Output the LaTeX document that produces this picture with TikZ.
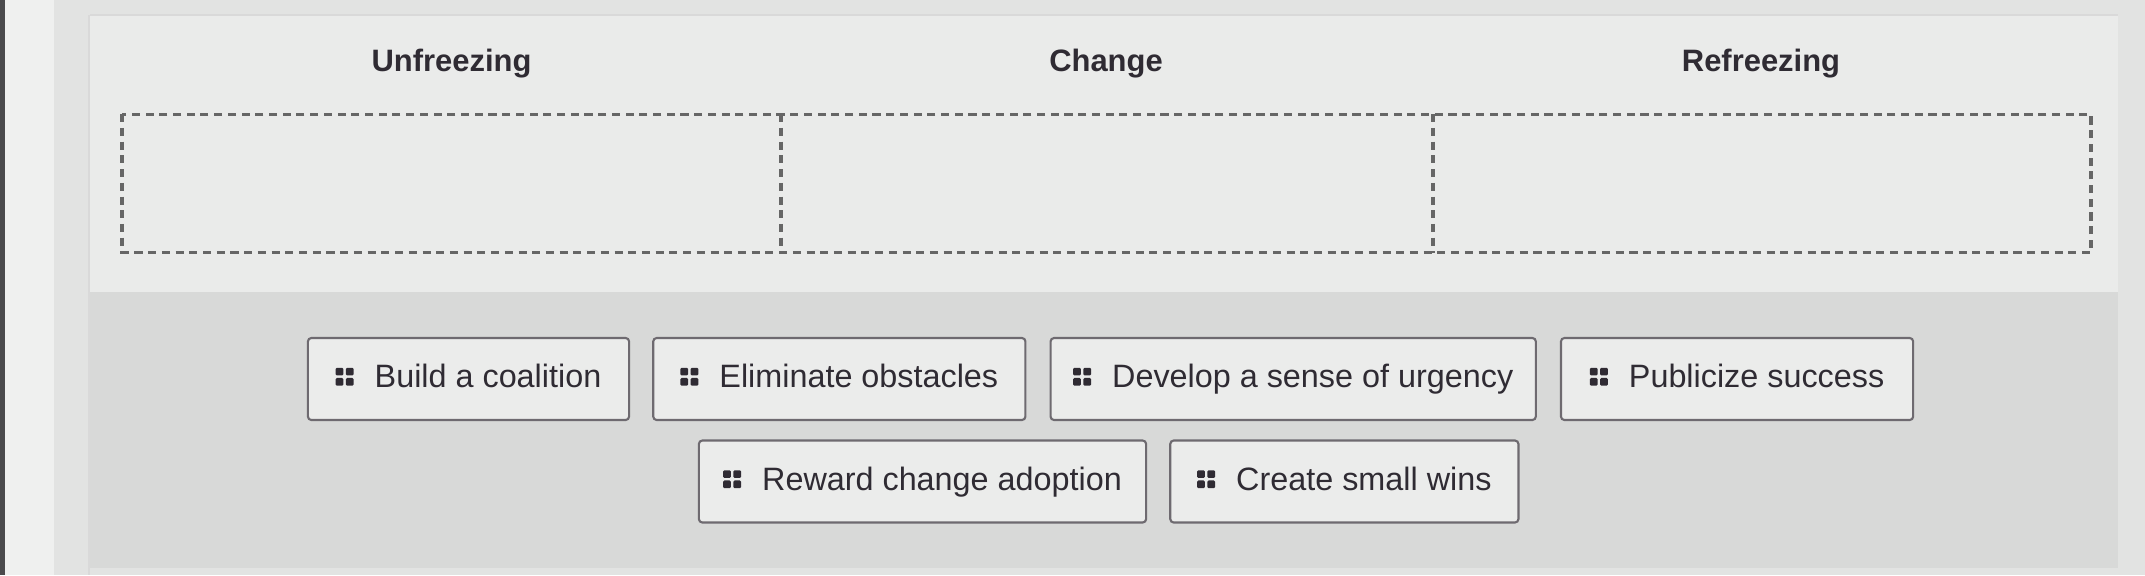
\documentclass[tikz,border=0pt]{standalone}
\usepackage{fontspec}
\setmainfont{Liberation Sans}
\usepackage{xcolor}
\usepackage{tikz}
\usetikzlibrary{positioning}

\definecolor{screen}{HTML}{E2E3E2}
\definecolor{bezel}{HTML}{4A4A4C}
\definecolor{panel}{HTML}{EAEBEA}
\definecolor{tray}{HTML}{D8D9D8}
\definecolor{cardfill}{HTML}{EBECEB}
\definecolor{cardline}{HTML}{6E6A70}
\definecolor{zoneline}{HTML}{666666}
\definecolor{inktone}{HTML}{2F2B33}

\newcommand{\gripicon}{\tikz[x=1pt,y=1pt,baseline=-0.6pt]{\foreach \i in {0,1} \foreach \j in {0,1} \fill[inktone,rounded corners=0.35pt] (\i*2.9,\j*2.9) rectangle +(2.2,2.2);}}

\tikzset{
    card/.style={draw=cardline, line width=0.6pt, fill=cardfill, rounded corners=1pt,
        minimum height=0.82cm, inner sep=0pt, text=inktone,
        text height=7pt, text depth=2pt,
        font=\fontsize{9.2pt}{11pt}\selectfont},
    heading/.style={font=\bfseries\fontsize{8.8pt}{10pt}\selectfont, text=inktone},
    zone/.style={minimum height=1.37cm, inner sep=0pt},
    dropline/.style={draw=zoneline, line width=0.95pt, dash pattern=on 2.3pt off 1.6pt}
}

\begin{document}
\begin{tikzpicture}[x=0.01cm, y=-0.01cm]
    \useasboundingbox (0,0) rectangle (2145,575);

    % Screen
    \fill [screen] (0,0) rectangle (2145,575);
    \fill [bezel] (0,0) rectangle (5,575);
    \fill [screen!55!white] (5,0) rectangle (54,575);
    \draw [gray!30] (89,15) -- (89,575);

    % Panel
    \fill [panel] (90,15) rectangle (2118,292);
    \fill [tray] (90,292) rectangle (2118,568);
    \draw [gray!30] (90,15) -- (2118,15);

    % Drop zones
    \node [zone, minimum width=6.57cm] (unfreezezone) at (451.5,183.5) {};
    \node [zone, minimum width=6.52cm] (changezone) at (1106,183.5) {};
    \node [zone, minimum width=6.58cm] (refreezezone) at (1761,183.5) {};
    \draw [dropline] (unfreezezone.north west) rectangle (refreezezone.south east);
    \draw [dropline] (unfreezezone.north east) -- (unfreezezone.south east);
    \draw [dropline] (changezone.north east) -- (changezone.south east);

    % Headings
    \node [heading, above=0.24cm of unfreezezone] (unfreezing) {Unfreezing};
    \node [heading, above=0.24cm of changezone] (change) {Change};
    \node [heading, above=0.24cm of refreezezone] (refreezing) {Refreezing};

    % Cards
    \node [card, minimum width=3.21cm] (coalition) at (468.5,379) {\gripicon\hspace{6pt}Build a coalition};
    \node [card, minimum width=3.72cm, right=0.22cm of coalition] (obstacles) {\gripicon\hspace{6pt}Eliminate obstacles};
    \node [card, minimum width=4.85cm, right=0.23cm of obstacles] (urgency) {\gripicon\hspace{6pt}Develop a sense of urgency};
    \node [card, minimum width=3.52cm, right=0.23cm of urgency] (publicize) {\gripicon\hspace{6pt}Publicize success};
    \node [card, minimum width=4.47cm] (reward) at (922.5,481.5) {\gripicon\hspace{6pt}Reward change adoption};
    \node [card, minimum width=3.48cm, right=0.22cm of reward] (smallwins) {\gripicon\hspace{6pt}Create small wins};
\end{tikzpicture}
\end{document}
